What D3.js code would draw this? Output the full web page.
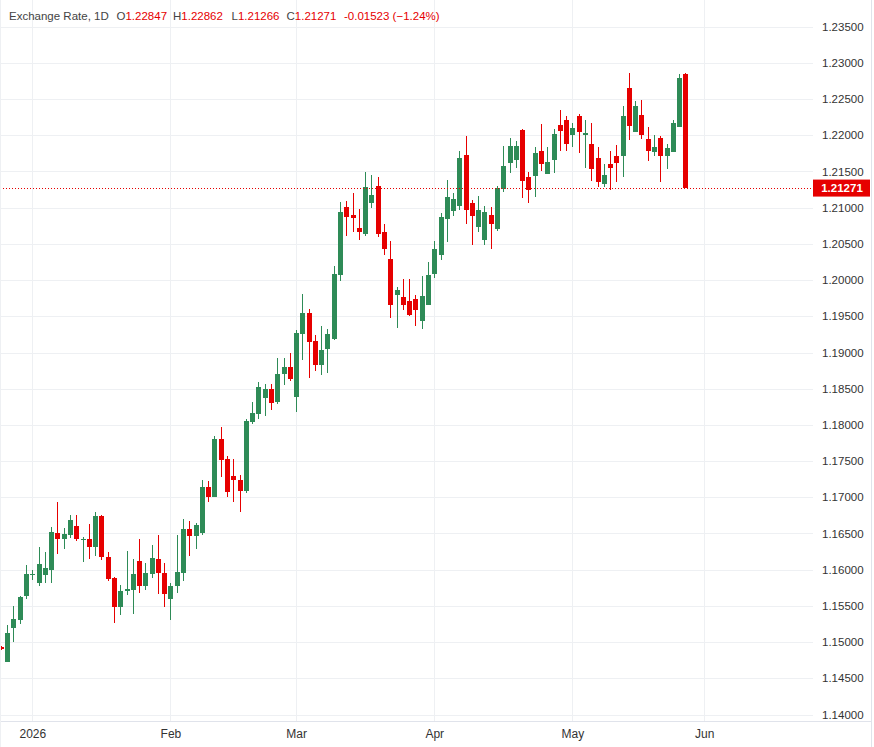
<!DOCTYPE html>
<html>
<head>
<meta charset="utf-8">
<script src="https://cdn.jsdelivr.net/npm/d3@7"></script>
<style>
body { margin: 0; background: #fff; }
svg text { font-family: "Liberation Sans", Arial, sans-serif; }
</style>
</head>
<body>
<div id="chart"></div>
<script>
// daily candles, first bar is 2025-12-25, weekdays only
var openVals = [
  1.1493, 1.1473, 1.1519, 1.1531, 1.1563, 1.1593, 1.1581, 1.1592, 1.1600, 1.1651,
  1.1642, 1.1648, 1.1660, 1.1642, 1.1642, 1.1632, 1.1674, 1.1618, 1.1589, 1.1549,
  1.1570, 1.1572, 1.1612, 1.1577, 1.1594, 1.1615, 1.1595, 1.1560, 1.1577, 1.1596,
  1.1656, 1.1646, 1.1651, 1.1714, 1.1701, 1.1781, 1.1753, 1.1729, 1.1724, 1.1709,
  1.1804, 1.1815, 1.1837, 1.1850, 1.1832, 1.1870, 1.1880, 1.1839, 1.1926, 1.1955,
  1.1916, 1.1883, 1.1905, 1.1919, 1.2007, 1.2101, 1.2090, 1.2072, 1.2064, 1.2107,
  1.2130, 1.2066, 1.2029, 1.1980, 1.1977, 1.1971, 1.1974, 1.1943, 1.1965, 1.2009,
  1.2034, 1.2084, 1.2095, 1.2103, 1.2173, 1.2107, 1.2073, 1.2056, 1.2090, 1.2070,
  1.2126, 1.2162, 1.2166, 1.2207, 1.2142, 1.2144, 1.2178, 1.2146, 1.2166, 1.2214,
  1.2221, 1.2200, 1.2227, 1.2200, 1.2188, 1.2169, 1.2133, 1.2160, 1.2171, 1.2172,
  1.2265, 1.2204, 1.2228, 1.2195, 1.2177, 1.2196, 1.2171, 1.2177, 1.2212, 1.22847
];
var highVals = [
  1.1494, 1.1523, 1.1550, 1.1564, 1.1607, 1.1600, 1.1631, 1.1624, 1.1659, 1.1694,
  1.1658, 1.1676, 1.1676, 1.1645, 1.1663, 1.1680, 1.1676, 1.1624, 1.1590, 1.1579,
  1.1626, 1.1615, 1.1642, 1.1609, 1.1634, 1.1648, 1.1609, 1.1582, 1.1648, 1.1670,
  1.1667, 1.1665, 1.1724, 1.1722, 1.1785, 1.1797, 1.1757, 1.1753, 1.1731, 1.1808,
  1.1832, 1.1859, 1.1856, 1.1856, 1.1892, 1.1892, 1.1899, 1.1931, 1.1981, 1.1960,
  1.1924, 1.1937, 1.1932, 1.2020, 1.2108, 1.2109, 1.2120, 1.2098, 1.2149, 1.2145,
  1.2142, 1.2078, 1.2054, 1.1991, 1.2002, 1.2002, 1.1979, 1.2006, 1.2025, 1.2054,
  1.2093, 1.2138, 1.2120, 1.2178, 1.2199, 1.2111, 1.2116, 1.2102, 1.2101, 1.2130,
  1.2185, 1.2196, 1.2192, 1.2209, 1.2149, 1.2184, 1.2216, 1.2184, 1.2209, 1.2235,
  1.2227, 1.2217, 1.2229, 1.2221, 1.2217, 1.2184, 1.2160, 1.2179, 1.2187, 1.2240,
  1.2286, 1.2247, 1.2249, 1.2212, 1.2200, 1.2199, 1.2188, 1.2221, 1.2285, 1.22862
];
var lowVals = [
  1.1489, 1.1472, 1.1500, 1.1525, 1.1559, 1.1586, 1.1577, 1.1582, 1.1582, 1.1621,
  1.1629, 1.1644, 1.1639, 1.1610, 1.1615, 1.1619, 1.1613, 1.1584, 1.1527, 1.1537,
  1.1565, 1.1539, 1.1568, 1.1572, 1.1588, 1.1566, 1.1548, 1.1530, 1.1568, 1.1585,
  1.1619, 1.1628, 1.1648, 1.1693, 1.1700, 1.1728, 1.1700, 1.1694, 1.1680, 1.1706,
  1.1801, 1.1808, 1.1812, 1.1821, 1.1829, 1.1855, 1.1861, 1.1818, 1.1890, 1.1865,
  1.1874, 1.1869, 1.1872, 1.1917, 1.1999, 1.2061, 1.2066, 1.2055, 1.2061, 1.2100,
  1.2059, 1.2034, 1.1947, 1.1934, 1.1959, 1.1951, 1.1937, 1.1932, 1.1965, 1.2003,
  1.2028, 1.2052, 1.2089, 1.2097, 1.2077, 1.2048, 1.2066, 1.2048, 1.2043, 1.2068,
  1.2122, 1.2148, 1.2155, 1.2113, 1.2107, 1.2115, 1.2151, 1.2146, 1.2148, 1.2178,
  1.2178, 1.2184, 1.2175, 1.2155, 1.2137, 1.2128, 1.2128, 1.2124, 1.2136, 1.2143,
  1.2193, 1.2204, 1.2195, 1.2164, 1.2171, 1.2136, 1.2153, 1.2177, 1.2212, 1.21266
];
var closeVals = [
  1.1490, 1.1512, 1.1532, 1.1562, 1.1594, 1.1594, 1.1608, 1.1602, 1.1652, 1.1642,
  1.1649, 1.1669, 1.1642, 1.1643, 1.1632, 1.1674, 1.1618, 1.1587, 1.1549, 1.1570,
  1.1573, 1.1594, 1.1577, 1.1595, 1.1616, 1.1595, 1.1566, 1.1578, 1.1597, 1.1656,
  1.1646, 1.1662, 1.1714, 1.1701, 1.1781, 1.1752, 1.1707, 1.1724, 1.1709, 1.1805,
  1.1816, 1.1852, 1.1850, 1.1830, 1.1870, 1.1880, 1.1863, 1.1927, 1.1955, 1.1915,
  1.1883, 1.1903, 1.1926, 1.2008, 1.2094, 1.2087, 1.2086, 1.2066, 1.2129, 1.2118,
  1.2064, 1.2043, 1.1966, 1.1986, 1.1966, 1.1952, 1.1959, 1.1978, 1.2007, 1.2043,
  1.2087, 1.2115, 1.2112, 1.2169, 1.2097, 1.2088, 1.2097, 1.2094, 1.2077, 1.2127,
  1.2158, 1.2185, 1.2185, 1.2137, 1.2124, 1.2176, 1.2161, 1.2163, 1.2202, 1.2206,
  1.2188, 1.2210, 1.2204, 1.2203, 1.2153, 1.2136, 1.2145, 1.2155, 1.2162, 1.2227,
  1.2213, 1.2240, 1.2201, 1.2179, 1.2184, 1.2171, 1.2182, 1.2217, 1.22794, 1.21271
];
var priceTicks = [1.14, 1.145, 1.15, 1.155, 1.16, 1.165, 1.17, 1.175, 1.18, 1.185,
  1.19, 1.195, 1.2, 1.205, 1.21, 1.215, 1.22, 1.225, 1.23, 1.235];
var seriesName = "Exchange Rate, 1D";

var width = 874, height = 747;
var plotRight = 813, axisY = 721.5;
var barStep = 6.28, firstX = 0.9, bodyW = 5;
var green = "#2e8b57", red = "#e60000";
var gridColor = "#eef0f3", textColor = "#333";

var svg = d3.select("#chart").append("svg")
    .attr("width", width)
    .attr("height", height);

var days = d3.timeDay.range(new Date(2025, 11, 25), new Date(2026, 5, 6))
    .filter(function(d) { var w = d.getDay(); return w > 0 && w < 6; });

var candles = closeVals.map(function(c, i) {
  return { i: i, date: days[i], o: openVals[i], h: highVals[i], l: lowVals[i], c: c };
});

var x = d3.scaleLinear().domain([0, 1]).range([firstX, firstX + barStep]);
var y = d3.scaleLinear().domain([1.14, 1.235]).range([714.5, 26.7]);

// first weekday of each month
var monthTicks = d3.range(1, days.length).filter(function(i) {
  return days[i].getMonth() != days[i - 1].getMonth();
});

//////////// grid ////////////
svg.append("g").selectAll("line").data(priceTicks)
  .enter().append("line")
    .attr("x1", 0).attr("x2", plotRight)
    .attr("y1", function(d) { return Math.round(y(d)) + 0.5; })
    .attr("y2", function(d) { return Math.round(y(d)) + 0.5; })
    .attr("stroke", gridColor);

svg.append("g").selectAll("line").data(monthTicks)
  .enter().append("line")
    .attr("x1", function(d) { return Math.round(x(d)) + 0.5; })
    .attr("x2", function(d) { return Math.round(x(d)) + 0.5; })
    .attr("y1", 0).attr("y2", axisY)
    .attr("stroke", gridColor);

//////////// candles ////////////
var bars = svg.append("g").attr("shape-rendering", "crispEdges")
  .selectAll("g").data(candles)
  .enter().append("g")
    .attr("fill", function(d) { return d.c >= d.o ? green : red; });

bars.append("rect")
    .attr("x", function(d) { return Math.round(x(d.i)); })
    .attr("width", 1)
    .attr("y", function(d) { return y(d.h); })
    .attr("height", function(d) { return Math.max(1, y(d.l) - y(d.h)); });

bars.append("rect")
    .attr("x", function(d) { return Math.round(x(d.i)) - 2; })
    .attr("width", bodyW)
    .attr("y", function(d) { return y(Math.max(d.o, d.c)); })
    .attr("height", function(d) { return Math.max(1, Math.abs(y(d.o) - y(d.c))); });

//////////// last price line ////////////
var last = candles[candles.length - 1];
var prev = candles[candles.length - 2];
var lastY = y(last.c);

svg.append("line")
    .attr("x1", 0).attr("x2", plotRight)
    .attr("y1", Math.round(lastY) + 0.5).attr("y2", Math.round(lastY) + 0.5)
    .attr("stroke", red)
    .attr("stroke-dasharray", "1,2");

//////////// axes ////////////
var fmt5 = d3.format(".5f");

var yAxis = svg.append("g")
    .attr("transform", "translate(" + plotRight + ",0)")
    .call(d3.axisRight(y).tickValues(priceTicks).tickSize(0).tickPadding(9).tickFormat(fmt5));
yAxis.select(".domain").remove();
yAxis.selectAll("text")
    .attr("fill", textColor)
    .style("font-size", "11.5px");

var xAxis = svg.append("g")
    .attr("transform", "translate(0," + axisY + ")")
    .call(d3.axisBottom(x).tickValues(monthTicks).tickSize(0).tickPadding(8)
      .tickFormat(function(i) {
        return days[i].getMonth() === 0 ? d3.timeFormat("%Y")(days[i]) : d3.timeFormat("%b")(days[i]);
      }));
xAxis.select(".domain").remove();
xAxis.selectAll("text")
    .attr("fill", textColor)
    .style("font-size", "12px");

// price tag
svg.append("rect")
    .attr("x", plotRight)
    .attr("y", lastY - 8.5)
    .attr("width", 57)
    .attr("height", 17)
    .attr("fill", red);
svg.append("text")
    .attr("x", plotRight + 29)
    .attr("y", lastY)
    .attr("dy", "0.35em")
    .attr("text-anchor", "middle")
    .attr("fill", "#fff")
    .style("font-size", "11.5px")
    .style("font-weight", "bold")
    .text(fmt5(last.c));

// frame
svg.append("line")
    .attr("x1", 0).attr("x2", 872)
    .attr("y1", axisY).attr("y2", axisY)
    .attr("stroke", "#e0e3eb");
svg.append("line")
    .attr("x1", 871.5).attr("x2", 871.5)
    .attr("y1", 0).attr("y2", height)
    .attr("stroke", "#e0e3eb");
svg.append("line")
    .attr("x1", 0.5).attr("x2", 0.5)
    .attr("y1", 0).attr("y2", height)
    .attr("stroke", "#eef0f3");

//////////// legend ////////////
var chg = last.c - prev.c;
var pct = chg / prev.c * 100;
var legend = [
  { x: 9, label: seriesName, value: "" },
  { x: 116.5, label: "O", value: fmt5(last.o) },
  { x: 173, label: "H", value: fmt5(last.h) },
  { x: 231.5, label: "L", value: fmt5(last.l) },
  { x: 286.5, label: "C", value: fmt5(last.c) },
  { x: 344, label: "", value: (chg < 0 ? "-" : "+") + fmt5(Math.abs(chg)) + " (" + (pct < 0 ? "\u2212" : "+") + Math.abs(pct).toFixed(2) + "%)" }
];
var lg = svg.selectAll(".legend").data(legend)
  .enter().append("text")
    .attr("class", "legend")
    .attr("x", function(d) { return d.x; })
    .attr("y", 20)
    .style("font-size", "11.5px");
lg.append("tspan").attr("fill", "#444").text(function(d) { return d.label; });
lg.append("tspan").attr("fill", red).text(function(d) { return d.value; });
</script>
</body>
</html>
